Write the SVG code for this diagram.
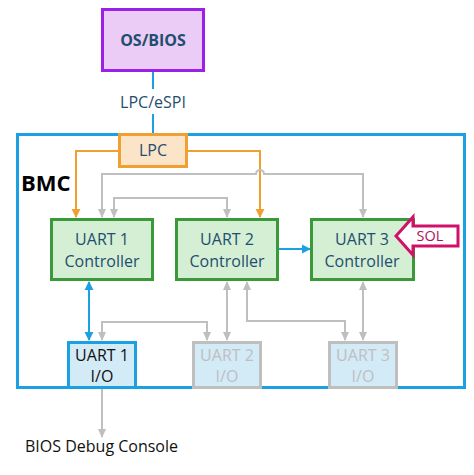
<svg xmlns="http://www.w3.org/2000/svg" width="474" height="475" viewBox="0 0 474 475">
<style>
text{font-family:"Open Sans","Liberation Sans",sans-serif;text-anchor:middle;fill:#1F4E6E}
.n{font-size:16px}
.ctrl{fill:#D5EFD5;stroke:#3A9A3A;stroke-width:3}
.io{fill:#D3EAF7;stroke-width:3}
.g{fill:none;stroke:#BFBFBF;stroke-width:2}
.o{fill:none;stroke:#F0A030;stroke-width:2}
.b{fill:none;stroke:#1BA1E2;stroke-width:2}
</style>
<defs>
<marker id="ag" viewBox="0 0 10 9" refX="9" refY="4.5" markerWidth="9" markerHeight="8" markerUnits="userSpaceOnUse" orient="auto-start-reverse"><path d="M0,0 L10,4.5 L0,9 z" fill="#BFBFBF"/></marker>
<marker id="ao" viewBox="0 0 10 10" refX="9" refY="5" markerWidth="9" markerHeight="10" markerUnits="userSpaceOnUse" orient="auto-start-reverse"><path d="M0,0 L10,5 L0,10 z" fill="#F0A030"/></marker>
<marker id="ab" viewBox="0 0 10 10" refX="9" refY="5" markerWidth="9" markerHeight="10" markerUnits="userSpaceOnUse" orient="auto-start-reverse"><path d="M0,0 L10,5 L0,10 z" fill="#1BA1E2"/></marker>
</defs>
<rect width="474" height="475" fill="#fff"/>

<g id="bmc">
<rect x="17.5" y="134.5" width="447" height="253" fill="none" stroke="#1BA1E2" stroke-width="3"/>
<text x="21" y="191" style="font-family:'Open Sans','Liberation Sans',sans-serif;font-size:22px;font-weight:bold;fill:#000;text-anchor:start">BMC</text>
</g>

<g id="connectors">
<line class="b" x1="153" y1="71" x2="153" y2="89"/>
<line class="b" x1="153" y1="114" x2="153" y2="134"/>
<path class="o" d="M119,151 H76 V217" marker-end="url(#ao)"/>
<path class="o" d="M187,151 H260 V217" marker-end="url(#ao)"/>
<path class="g" d="M102,217 V174 H256 A4,4 0 0 1 264,174 H363 V217" marker-start="url(#ag)" marker-end="url(#ag)"/>
<path class="g" d="M114,217 V198 H227 V217" marker-start="url(#ag)" marker-end="url(#ag)"/>
<line class="b" x1="278" y1="249" x2="310" y2="249" marker-end="url(#ab)"/>
<line class="b" x1="89" y1="282" x2="89" y2="340" marker-start="url(#ab)" marker-end="url(#ab)"/>
<path class="g" d="M102,340 V322 H207 V340" marker-start="url(#ag)" marker-end="url(#ag)"/>
<line class="g" x1="227" y1="282" x2="227" y2="340" marker-start="url(#ag)" marker-end="url(#ag)"/>
<path class="g" d="M247,282 V321 H345 V340" marker-start="url(#ag)" marker-end="url(#ag)"/>
<line class="g" x1="363" y1="282" x2="363" y2="340" marker-start="url(#ag)" marker-end="url(#ag)"/>
<line class="g" x1="102" y1="389" x2="102" y2="437" marker-end="url(#ag)"/>
</g>

<g id="os-bios">
<rect x="102.5" y="9.5" width="101" height="61" fill="#EBCCF7" stroke="#9B1FE8" stroke-width="3"/>
<text x="153" y="46" style="font-size:16px;font-weight:bold">OS/BIOS</text>
</g>
<g id="lpc-espi-label"><text class="n" x="153" y="108">LPC/eSPI</text></g>

<g id="lpc">
<rect x="119.5" y="134.5" width="67" height="32" fill="#FCE4C8" stroke="#F0A030" stroke-width="3"/>
<text class="n" x="153" y="156">LPC</text>
</g>

<g id="uart1-ctrl">
<rect class="ctrl" x="51.5" y="219.5" width="101" height="60"/>
<text class="n" x="102" y="245">UART 1</text>
<text class="n" x="102" y="267">Controller</text>
</g>
<g id="uart2-ctrl">
<rect class="ctrl" x="176.5" y="219.5" width="101" height="60"/>
<text class="n" x="227" y="245">UART 2</text>
<text class="n" x="227" y="267">Controller</text>
</g>
<g id="uart3-ctrl">
<rect class="ctrl" x="311.5" y="219.5" width="102" height="60"/>
<text class="n" x="362" y="245">UART 3</text>
<text class="n" x="362" y="267">Controller</text>
</g>

<g id="sol">
<path d="M396,236 L413,217 V226 H458 V246 H413 V255 Z" fill="#fff" stroke="#D0106A" stroke-width="3" stroke-linejoin="miter"/>
<text x="430" y="241" style="font-size:14.5px;fill:#B0105E">SOL</text>
</g>

<g id="uart1-io">
<rect class="io" x="68.5" y="342.5" width="67" height="45" stroke="#1BA1E2"/>
<text class="n" x="102" y="361" style="fill:#111">UART 1</text>
<text class="n" x="102" y="382" style="fill:#111">I/O</text>
</g>
<g id="uart2-io">
<rect class="io" x="193.5" y="342.5" width="67" height="45" stroke="#BFBFBF"/>
<text class="n" x="227" y="361" style="fill:#BFBFBF">UART 2</text>
<text class="n" x="227" y="382" style="fill:#BFBFBF">I/O</text>
</g>
<g id="uart3-io">
<rect class="io" x="329.5" y="342.5" width="67" height="45" stroke="#BFBFBF"/>
<text class="n" x="363" y="361" style="fill:#BFBFBF">UART 3</text>
<text class="n" x="363" y="382" style="fill:#BFBFBF">I/O</text>
</g>

<g id="bios-debug-console">
<text x="25" y="452" style="font-size:16px;fill:#111;text-anchor:start">BIOS Debug Console</text>
</g>
</svg>
